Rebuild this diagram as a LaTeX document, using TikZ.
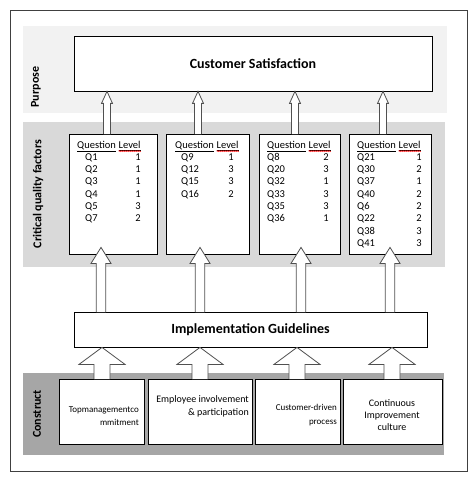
\documentclass[tikz,border=0pt]{standalone}
\usepackage{fontspec}
\setmainfont{Carlito}
\usepackage{tikz}
\usetikzlibrary{positioning,calc,decorations.pathmorphing}

\definecolor{purposegray}{HTML}{F2F2F2}
\definecolor{factorgray}{HTML}{D9D9D9}
\definecolor{constructgray}{HTML}{A6A6A6}
\definecolor{arrowgray}{HTML}{505050}

% hollow upward arrow: from, to, shaft half width, head half width, head length
\newcommand{\blockarrow}[5]{%
  \draw[arrowline] let \p1=(#1), \p2=(#2) in
    (\x1-#3,\y1-0.6pt) -- (\x1-#3,\y2-#5) -- (\x1-#4,\y2-#5) -- (\x1,\y2)
    -- (\x1+#4,\y2-#5) -- (\x1+#3,\y2-#5) -- (\x1+#3,\y1-0.6pt);}

\begin{document}
\begin{tikzpicture}[x=1pt,y=-1pt,
  box/.style={draw=black,line width=0.8pt,fill=white,inner sep=0pt},
  title/.style={font=\fontsize{14}{16}\selectfont\bfseries},
  side/.style={font=\fontsize{12}{14}\selectfont\bfseries,rotate=90,inner sep=0pt},
  qcell/.style={font=\fontsize{10.5}{12}\selectfont,inner sep=0pt,text height=6.8pt,text depth=0pt},
  ctext/.style={font=\fontsize{9}{13}\selectfont,inner sep=0pt},
  arrowline/.style={draw=arrowgray,line width=0.8pt,fill=white,line join=miter},
  spell/.style={draw=red,line width=0.5pt,decorate,
    decoration={snake,amplitude=0.6pt,segment length=2pt}}]
  \useasboundingbox (0,0) rectangle (474,478);
  \draw[draw=black!75,line width=1pt] (10,11) rectangle (467,471);

  % bands
  \fill[purposegray] (23,26) rectangle (447,113);
  \fill[factorgray] (23,122) rectangle (445,267);
  \fill[constructgray] (23,373) rectangle (444,455);
  \node[side] (purpose) at (36,87) {Purpose};
  \node[side] (factors) at (38,194) {Critical quality factors};
  \node[side] (construct) at (37,414) {Construct};

  % boxes
  \node[box,title,minimum width=358pt,minimum height=55pt] (cs) at (253,63.5) {Customer Satisfaction};
  \node[box,title,minimum width=353pt,minimum height=35pt] (ig) at (250.5,329.5) {Implementation Guidelines};
  \node[box,minimum width=88pt,minimum height=120pt] (q1) at (113,194) {};
  \node[box,minimum width=83pt,minimum height=120pt] (q2) at (207.5,194) {};
  \node[box,minimum width=81pt,minimum height=120pt] (q3) at (299.5,194) {};
  \node[box,minimum width=82pt,minimum height=120pt] (q4) at (390,194) {};
  \node[box,minimum width=85pt,minimum height=65pt] (c1) at (101.5,411.5) {};
  \node[box,minimum width=104pt,minimum height=65pt] (c2) at (200,411.5) {};
  \node[box,minimum width=85pt,minimum height=65pt] (c3) at (297.5,411.5) {};
  \node[box,minimum width=99pt,minimum height=65pt] (c4) at (392.5,411.5) {};

  % construct texts
  \node[ctext,align=right,anchor=east] (c1t) at (139,416.5) {Topmanagementco\\mmitment};
  \node[ctext,font=\fontsize{10}{13}\selectfont,align=right,anchor=east] (c2t) at (249,406.5) {Employee involvement\\\& participation};
  \node[ctext,font=\fontsize{9}{14}\selectfont,align=right,anchor=east] (c3t) at (337,415) {Customer-driven\\process};
  \node[ctext,font=\fontsize{10}{12}\selectfont,align=center] (c4t) at (392,415) {Continuous\\Improvement\\culture};

  % question tables
  \foreach \b/\hx/\qx/\lx/\rows in {1/77/85/138/{Q1/1,Q2/1,Q3/1,Q4/1,Q5/3,Q7/2},
      2/175/181/231/{Q9/1,Q12/3,Q15/3,Q16/2},
      3/267/267/326/{Q8/2,Q20/3,Q32/1,Q33/3,Q35/3,Q36/1},
      4/357/357/419/{Q21/1,Q30/2,Q37/1,Q40/2,Q6/2,Q22/2,Q38/3,Q41/3}} {
    \node[qcell,anchor=west] (hq\b) at (\hx,145) {\underline{Question}};
    \node[qcell,right=2.4pt of hq\b] (hl\b) {\underline{Level}};
    \draw[spell] ([yshift=-2.5pt]hl\b.south west) -- ([yshift=-2.5pt]hl\b.south east);
    \foreach \q/\l [count=\i] in \rows {
      \node[qcell,anchor=west] (rq\b-\i) at (\qx,{157+12.3*(\i-1)}) {\q};
      \node[qcell] (rl\b-\i) at (\lx,{157+12.3*(\i-1)}) {\l};
    }
  }

  % arrow columns
  \coordinate (t1) at (107,0);  \coordinate (m1) at (101,0);  \coordinate (b1) at (102,0);
  \coordinate (t2) at (198,0);  \coordinate (m2) at (200,0);  \coordinate (b2) at (200,0);
  \coordinate (t3) at (295,0);  \coordinate (m3) at (301,0);  \coordinate (b3) at (297,0);
  \coordinate (t4) at (383,0);  \coordinate (m4) at (390,0);  \coordinate (b4) at (392,0);

  \foreach \i in {1,...,4} {
    \blockarrow{q\i.north -| t\i}{cs.south -| t\i}{3.5pt}{5.5pt}{12pt}
    \blockarrow{ig.north -| m\i}{$(q\i.south -| m\i)+(0,-7)$}{4.75pt}{10pt}{16pt}
    \blockarrow{c\i.north -| b\i}{ig.south -| b\i}{8pt}{23pt}{17pt}
  }
\end{tikzpicture}
\end{document}
